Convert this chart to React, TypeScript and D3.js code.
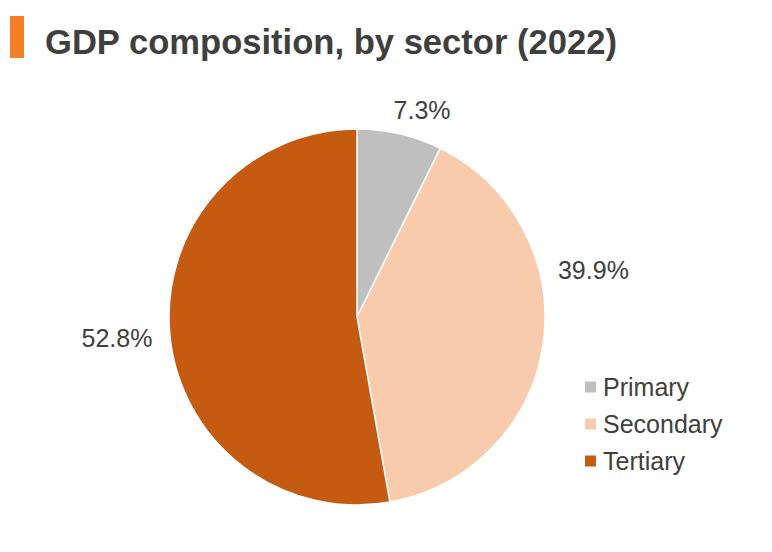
import * as d3 from 'd3'

const sectors = ['Primary', 'Secondary', 'Tertiary']
const shares = [7.3, 39.9, 52.8]
const sectorColors = ['#bfbfbf', '#f8cbad', '#c55a11']

const W = 772
const H = 552
const CX = 357
const CY = 317
const R = 188

// Excel "best fit" label placement: radius and angle nudge per slice
const LABEL_R = [217, 241, 241]
const LABEL_NUDGE_DEG = [4.3, -19.3, 0]

const FONT = 'Arial, "Liberation Sans", sans-serif'

export default function App() {
  const pie = d3
    .pie<number>()
    .sort(null)
    .value((d) => d)
  const arcs = pie(shares)
  const arc = d3.arc<d3.PieArcDatum<number>>().innerRadius(0).outerRadius(R)

  const legendY = d3.scalePoint<string>().domain(sectors).range([387, 461])

  return (
    <svg width={W} height={H} style={{ position: 'absolute', left: 0, top: 0, background: '#fff' }}>
      <rect x={10} y={16} width={14} height={42} fill="#f47f24" />
      <text x={45} y={54} fontFamily={FONT} fontSize={34.6} fontWeight={700} fill="#3f3f3f">
        GDP composition, by sector (2022)
      </text>

      <g transform={`translate(${CX},${CY})`}>
        {arcs.map((a, i) => (
          <path key={sectors[i]} d={arc(a) ?? ''} fill={sectorColors[i]} stroke="#fff" strokeWidth={1.5} />
        ))}
        {arcs.map((a, i) => {
          const mid = (a.startAngle + a.endAngle) / 2 + (LABEL_NUDGE_DEG[i] * Math.PI) / 180
          const x = LABEL_R[i] * Math.sin(mid)
          const y = -LABEL_R[i] * Math.cos(mid)
          return (
            <text
              key={sectors[i]}
              x={x}
              y={y}
              dy="0.35em"
              textAnchor="middle"
              fontFamily={FONT}
              fontSize={25}
              fill="#404040"
            >
              {a.data.toFixed(1)}%
            </text>
          )
        })}
      </g>

      {sectors.map((s, i) => (
        <g key={s} transform={`translate(585,${legendY(s)})`}>
          <rect x={0} y={-5.5} width={11} height={11} fill={sectorColors[i]} />
          <text x={18} y={0} dy="0.35em" fontFamily={FONT} fontSize={25} fill="#404040">
            {s}
          </text>
        </g>
      ))}
    </svg>
  )
}
